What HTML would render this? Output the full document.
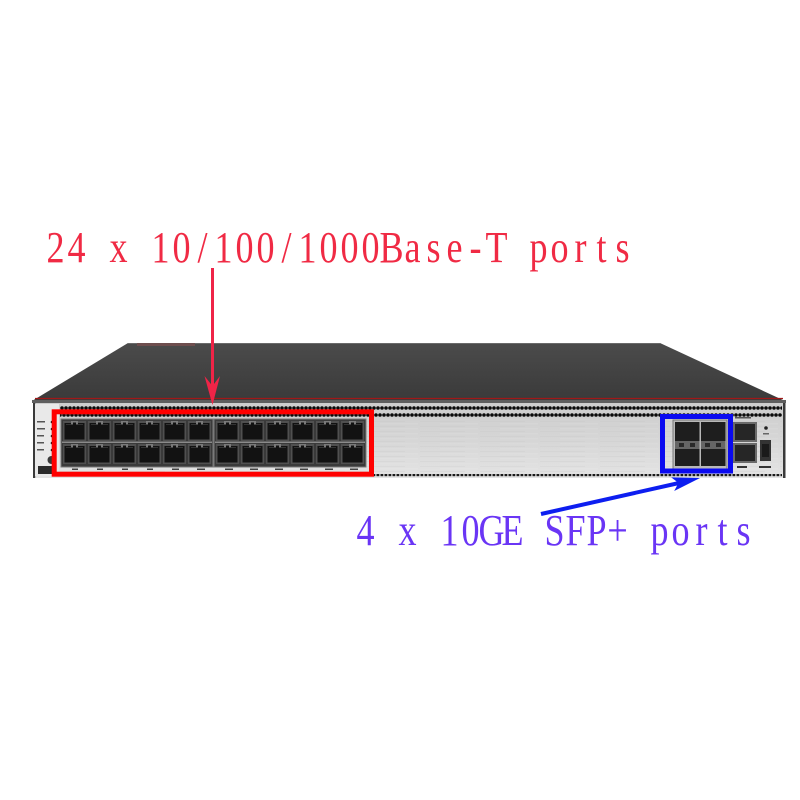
<!DOCTYPE html>
<html><head><meta charset="utf-8"><style>
html,body{margin:0;padding:0;background:#fff;}
svg{display:block;}
</style></head><body>
<svg width="800" height="800" viewBox="0 0 800 800" xmlns="http://www.w3.org/2000/svg">
<defs>
 <linearGradient id="topg" x1="0" y1="0" x2="0" y2="1">
  <stop offset="0" stop-color="#4b4b4b"/><stop offset="1" stop-color="#3a3a3a"/>
 </linearGradient>
 <linearGradient id="frontg" x1="0" y1="0" x2="0" y2="1">
  <stop offset="0" stop-color="#cdcdcd"/><stop offset="0.5" stop-color="#d6d6d6"/><stop offset="1" stop-color="#e4e4e4"/>
 </linearGradient>
 <pattern id="perf" x="0" y="404" width="4" height="20" patternUnits="userSpaceOnUse">
  <circle cx="2" cy="4" r="1.8" fill="#0a0a0a"/>
  <circle cx="0" cy="11" r="1.8" fill="#0a0a0a"/>
  <circle cx="4" cy="11" r="1.8" fill="#0a0a0a"/>
 </pattern>
 <pattern id="dash" x="0" y="473" width="4" height="4" patternUnits="userSpaceOnUse">
  <rect x="0.5" y="1" width="2.8" height="2.2" fill="#1a1a1a"/>
 </pattern>
 <pattern id="brush" x="0" y="0" width="60" height="5" patternUnits="userSpaceOnUse">
  <rect x="0" y="1" width="45" height="0.8" fill="#b8b8b8" opacity="0.18"/>
  <rect x="20" y="3.5" width="38" height="0.7" fill="#f2f2f2" opacity="0.25"/>
 </pattern>
 <g id="port">
  <rect x="0" y="0" width="23" height="20" fill="#505050"/>
  <rect x="1.5" y="2" width="20" height="16.5" fill="#121212"/>
  <rect x="8" y="0" width="7" height="3.5" fill="#7a7a7a"/>
  <rect x="10" y="1.5" width="3" height="4" fill="#121212"/>
  <rect x="3" y="3" width="5" height="1" fill="#333"/>
  <rect x="15" y="3" width="5" height="1" fill="#333"/>
 </g>
</defs>

<rect width="800" height="800" fill="#fff"/>

<!-- top surface -->
<polygon points="128,343 660,343 785,401 32,401" fill="url(#topg)"/>
<line x1="128" y1="343.5" x2="660" y2="343.5" stroke="#6a6a6a" stroke-width="1"/>
<rect x="137" y="343" width="58" height="3" fill="#6e4e4e"/>
<line x1="35" y1="398.5" x2="783" y2="398.5" stroke="#a01818" stroke-width="1.3"/>
<rect x="32" y="400" width="754" height="3" fill="#5e5e5e"/>

<!-- front panel -->
<rect x="33" y="403" width="752" height="75" fill="url(#frontg)"/>
<rect x="60" y="419" width="722" height="53" fill="url(#brush)"/>
<rect x="33" y="403" width="2.2" height="75" fill="#3a3a3a"/>
<rect x="783" y="403" width="2.5" height="75" fill="#3a3a3a"/>
<rect x="35" y="404" width="24" height="72" fill="#e9e9e9"/>
<rect x="60" y="404" width="722" height="16" fill="url(#perf)"/>
<rect x="60" y="473" width="722" height="4" fill="url(#dash)"/>

<!-- left labels -->
<g fill="#555">
 <rect x="37" y="421" width="8" height="1.5"/><rect x="37" y="428" width="8" height="1.5"/>
 <rect x="37" y="435" width="7" height="1.5"/><rect x="37" y="442" width="7" height="1.5"/>
 <rect x="37" y="449" width="7" height="1.5"/>
</g>
<g fill="#111">
 <circle cx="52" cy="422" r="1.3"/><circle cx="52" cy="429" r="1.3"/><circle cx="52" cy="436" r="1.3"/>
 <circle cx="52" cy="443" r="1.3"/><circle cx="52" cy="450" r="1.3"/>
</g>
<circle cx="51.5" cy="460" r="4" fill="#3a3a3a"/>
<rect x="38" y="466" width="14" height="8" fill="#2a2a2a"/>

<!-- port groups -->
<rect x="61" y="419" width="152" height="48" fill="#3a3a3a" stroke="#7a7a7a" stroke-width="1"/>
<rect x="214" y="419" width="152" height="48" fill="#3a3a3a" stroke="#7a7a7a" stroke-width="1"/>
<g>
 <use href="#port" x="63" y="421"/><use href="#port" x="88" y="421"/><use href="#port" x="113" y="421"/>
 <use href="#port" x="138" y="421"/><use href="#port" x="163" y="421"/><use href="#port" x="188" y="421"/>
 <use href="#port" x="216" y="421"/><use href="#port" x="241" y="421"/><use href="#port" x="266" y="421"/>
 <use href="#port" x="291" y="421"/><use href="#port" x="316" y="421"/><use href="#port" x="341" y="421"/>
 <use href="#port" x="63" y="444"/><use href="#port" x="88" y="444"/><use href="#port" x="113" y="444"/>
 <use href="#port" x="138" y="444"/><use href="#port" x="163" y="444"/><use href="#port" x="188" y="444"/>
 <use href="#port" x="216" y="444"/><use href="#port" x="241" y="444"/><use href="#port" x="266" y="444"/>
 <use href="#port" x="291" y="444"/><use href="#port" x="316" y="444"/><use href="#port" x="341" y="444"/>
</g>
<rect x="62" y="441.5" width="150" height="1.5" fill="#8a8a8a"/>
<rect x="215" y="441.5" width="150" height="1.5" fill="#8a8a8a"/>
<g fill="#444">
 <rect x="72" y="468.5" width="6" height="1.5"/><rect x="97" y="468.5" width="6" height="1.5"/>
 <rect x="122" y="468.5" width="6" height="1.5"/><rect x="147" y="468.5" width="6" height="1.5"/>
 <rect x="172" y="468.5" width="7" height="1.5"/><rect x="197" y="468.5" width="8" height="1.5"/>
 <rect x="225" y="468.5" width="8" height="1.5"/><rect x="250" y="468.5" width="8" height="1.5"/>
 <rect x="275" y="468.5" width="8" height="1.5"/><rect x="300" y="468.5" width="8" height="1.5"/>
 <rect x="325" y="468.5" width="8" height="1.5"/><rect x="350" y="468.5" width="8" height="1.5"/>
</g>

<!-- SFP cages -->
<rect x="673" y="420" width="54" height="49" fill="#b8b8b8" stroke="#777" stroke-width="1"/>
<rect x="675" y="422" width="24.5" height="44" fill="#1e1e1e"/>
<rect x="701" y="422" width="24.5" height="44" fill="#1e1e1e"/>
<rect x="675" y="441" width="24.5" height="8" fill="#666"/>
<rect x="701" y="441" width="24.5" height="8" fill="#666"/>
<g fill="#2a2a2a">
 <rect x="679" y="443" width="5" height="4"/><rect x="690" y="443" width="5" height="4"/>
 <rect x="705" y="443" width="5" height="4"/><rect x="716" y="443" width="5" height="4"/>
</g>

<!-- console / mgmt / usb -->
<rect x="733" y="422" width="24" height="20" fill="#6a6a6a"/>
<rect x="735" y="424" width="20" height="16" fill="#262626"/>
<rect x="733" y="443" width="24" height="20" fill="#6a6a6a"/>
<rect x="735" y="445" width="20" height="16" fill="#262626"/>
<rect x="735" y="417" width="16" height="1.5" fill="#555"/>
<circle cx="766" cy="428" r="1.8" fill="#222"/>
<rect x="763" y="433" width="6" height="1.5" fill="#666"/>
<rect x="760" y="440" width="11" height="21" fill="#333"/>
<rect x="762" y="444" width="7" height="13" fill="#1a1a1a"/>
<rect x="737" y="466" width="10" height="2" fill="#333"/>
<rect x="759" y="466" width="12" height="2" fill="#333"/>

<!-- highlight boxes -->
<rect x="54.2" y="411.8" width="317.3" height="62.4" fill="none" stroke="#ff0000" stroke-width="5"/>
<rect x="662.5" y="416.5" width="68" height="54.5" fill="none" stroke="#0a0af0" stroke-width="5"/>

<!-- red arrow -->
<line x1="212.5" y1="268" x2="212.5" y2="388" stroke="#ef2447" stroke-width="3"/>
<polygon points="204.5,376 212.5,405 220,376 212.5,386" fill="#ef2447"/>

<!-- blue arrow -->
<line x1="541" y1="514" x2="679" y2="483" stroke="#0d1ef0" stroke-width="4"/>
<polygon points="700,478 671.2,477.4 678.5,482.9 674.2,491" fill="#0d1ef0"/>

<!-- labels -->
<g transform="translate(0,262) scale(0.82,1)">
 <text y="0" font-family="'Liberation Serif', serif" font-size="44" fill="#f02a44" text-anchor="middle"
  x="67.68 93.29 118.90 144.51 170.12 195.73 221.34 246.95 272.56 298.17 323.78 349.39 375.00 400.61 426.22 451.83 477.44 503.05 528.66 554.27 579.88 605.49 631.10 656.71 682.32 707.93 733.54 759.15">24 x 10/100/1000Base-T ports</text>
</g>
<g transform="translate(0,545) scale(0.82,1)">
 <text y="0" font-family="'Liberation Serif', serif" font-size="44" fill="#6a35f5" text-anchor="middle"
  x="445.73 471.34 496.95 522.56 548.17 573.78 599.39 625.00 650.61 676.22 701.83 727.44 753.05 778.66 804.27 829.88 855.49 881.10 906.71">4 x 10GE SFP+ ports</text>
</g>
</svg>
</body></html>
